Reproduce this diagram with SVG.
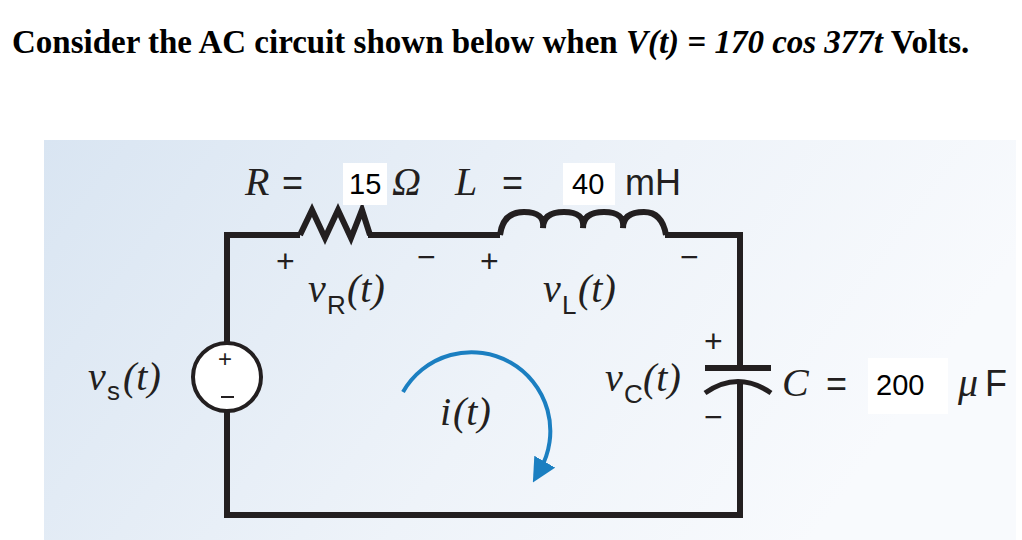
<svg xmlns="http://www.w3.org/2000/svg" width="1022" height="540" viewBox="0 0 1022 540">
<defs>
<linearGradient id="bg" x1="0" y1="0" x2="1" y2="0.3"><stop offset="0" stop-color="#d9e5f2"/><stop offset="0.6" stop-color="#eef3f9"/><stop offset="1" stop-color="#f8fafd"/></linearGradient>
<marker id="ah" viewBox="0 0 10 10" refX="4" refY="5" markerWidth="6" markerHeight="6" orient="auto"><path d="M0,0 L10,5 L0,10 z" fill="#1b7fc1"/></marker>
<style>
.w{fill:none;stroke:#231f20;stroke-width:6;stroke-linejoin:miter}
.m{font-family:"Liberation Serif",serif;font-style:italic;font-size:40px;fill:#231f20}
.s{font-family:"Liberation Sans",sans-serif;font-size:36px;fill:#231f20}
.n{font-family:"Liberation Sans",sans-serif;font-size:29px;fill:#000}
.sub{font-family:"Liberation Sans",sans-serif;font-size:26px;fill:#231f20}
.sg{font-family:"Liberation Sans",sans-serif;font-size:32px;fill:#231f20}
</style>
</defs>
<rect width="1022" height="540" fill="#fff"/>
<text x="12" y="53" font-family="Liberation Serif,serif" font-weight="bold" font-size="33" fill="#000">Consider the AC circuit shown below when <tspan font-style="italic">V(t) = 170 cos 377t</tspan> Volts.</text>
<rect x="44" y="140" width="972" height="400" fill="url(#bg)"/>
<g id="connectors">
<path class="w" d="M300,235 H227 V343 M227,411 V515 H740 V383 M740,368 V235 H665 M500,235 H368"/>
</g>
<g id="resistor">
<path class="w" d="M300,235 L312,210 L325,238 L338,210 L351,238 L362,210 L370,235" stroke-width="5"/>
<text class="m" x="245" y="195">R</text><text class="s" x="282" y="195">=</text>
<rect x="343" y="163" width="44" height="42" fill="#fff"/><text class="n" x="349" y="194">15</text>
<text class="m" x="392" y="195" font-style="normal">Ω</text>
<text class="sg" x="276" y="272">+</text><text class="sg" x="417" y="268">−</text>
<text class="m" x="308" y="302">v</text><text class="sub" x="327" y="314">R</text><text class="m" x="347" y="302">(t)</text>
</g>
<g id="inductor">
<path class="w" d="M500,235 Q503,212 524,212 Q545,212 543,228 Q543,212 564,212 Q585,212 583,228 Q583,212 604,212 Q625,212 623,228 Q623,212 644,212 Q662,212 666,235" stroke-width="5"/>
<text class="m" x="455" y="195">L</text><text class="s" x="502" y="195">=</text>
<rect x="563" y="163" width="52" height="42" fill="#fff"/><text class="n" x="572" y="194">40</text>
<text class="s" x="625" y="195">mH</text>
<text class="sg" x="480" y="272">+</text><text class="sg" x="680" y="268">−</text>
<text class="m" x="543" y="302">v</text><text class="sub" x="562" y="314">L</text><text class="m" x="578" y="302">(t)</text>
</g>
<g id="source">
<circle cx="227" cy="377" r="34" fill="#fff" stroke="#231f20" stroke-width="4"/>
<text x="218" y="367" font-family="Liberation Sans,sans-serif" font-size="24" fill="#231f20">+</text>
<line x1="221" y1="397" x2="234" y2="397" stroke="#231f20" stroke-width="2"/>
<text class="m" x="88" y="390">v</text><text class="sub" x="107" y="400">s</text><text class="m" x="123" y="390">(t)</text>
</g>
<g id="capacitor">
<line x1="705" y1="368" x2="771" y2="368" stroke="#231f20" stroke-width="6"/>
<path d="M705,393 Q738,370 771,393" fill="none" stroke="#231f20" stroke-width="5"/>
<text class="sg" x="704" y="352">+</text><text class="sg" x="704" y="428">−</text>
<text class="m" x="605" y="391">v</text><text class="sub" x="624" y="403">C</text><text class="m" x="643" y="391">(t)</text>
<text class="m" x="782" y="396">C</text><text class="s" x="826" y="396">=</text>
<rect x="868" y="358" width="80" height="56" fill="#fff"/><text class="n" x="876" y="395">200</text>
<text class="m" x="958" y="396">μ</text><text class="s" x="985" y="396">F</text>
</g>
<g id="current">
<path d="M403,392 A72,72 0 1,1 540,470" fill="none" stroke="#1b7fc1" stroke-width="4" marker-end="url(#ah)"/>
<text class="m" x="440" y="425">i</text><text class="m" x="453" y="425">(t)</text>
</g>
</svg>
